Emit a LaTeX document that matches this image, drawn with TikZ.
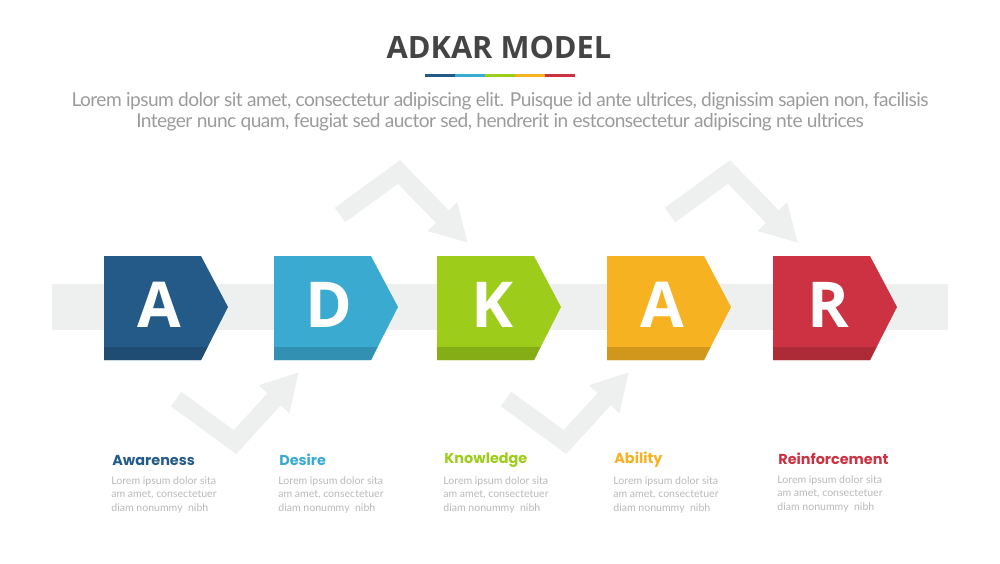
\documentclass[tikz,border=0pt]{standalone}
\usepackage{fontspec}
\setmainfont{Lato}
\newfontfamily\headfont{Open Sans}
\newfontfamily\cardfont{Poppins}
\usetikzlibrary{arrows.meta}

\definecolor{adkBlue}{RGB}{36,90,135}
\definecolor{adkSky}{RGB}{59,170,209}
\definecolor{adkGreen}{RGB}{157,205,26}
\definecolor{adkOrange}{RGB}{246,178,33}
\definecolor{adkRed}{RGB}{204,50,65}
\definecolor{adkGrey}{RGB}{238,239,239}
\definecolor{adkTitle}{RGB}{68,68,68}
\definecolor{adkText}{RGB}{155,155,155}
\definecolor{adkLight}{RGB}{185,185,185}

\begin{document}
\begin{tikzpicture}[x=0.2mm,y=-0.2mm,
		bend arrow/.style={draw=adkGrey, line width=10.2pt, line join=miter,
				-{Triangle[width=22pt,length=21pt]}},
		letter/.style={text=white, inner sep=0pt,
				font=\headfont\bfseries\fontsize{36}{36}\selectfont},
		card title/.style={anchor=west, inner sep=0pt,
				font=\cardfont\bfseries\fontsize{8.2}{9}\selectfont},
		card text/.style={anchor=north west, align=left, inner sep=0pt, text=adkLight,
				font=\fontsize{6}{7.7}\selectfont},
	]
	\useasboundingbox (0,0) rectangle (1000,563);
	%
	\node[text=adkTitle, font=\headfont\bfseries\fontsize{17.5}{20}\selectfont] (title) at (499,47) {ADKAR MODEL};
	\foreach \c [count=\i from 0] in {adkBlue,adkSky,adkGreen,adkOrange,adkRed}
		\fill[\c] (425+30*\i,73.5) rectangle ++(30,3);
	\node[text=adkText, align=center, font=\addfontfeature{LetterSpace=-3}\fontsize{10.9}{12.1}\selectfont] (intro) at (500,112)
		{Lorem ipsum dolor sit amet, consectetur adipiscing elit. Puisque id ante ultrices, dignissim sapien non, facilisis\\
		 Integer nunc quam, feugiat sed auctor sed, hendrerit in estconsectetur adipiscing nte ultrices};
	%
	\fill[adkGrey] (52,284) rectangle (948,330);
	\foreach \s in {0,330} {
		\draw[bend arrow] (340+\s,215) -- (399+\s,172) -- (468+\s,243);
		\draw[bend arrow] (176+\s,399) -- (235+\s,442) -- (299+\s,372);
	}
	%
	\foreach \x/\c/\l/\n in {104/adkBlue/A/a, 274/adkSky/D/d, 437/adkGreen/K/k, 607/adkOrange/A/b, 773/adkRed/R/r} {
		\fill[\c] (\x,256) -- ++(97,0) -- ++(27,51) -- ++(-27,53) -- ++(-97,0) -- cycle;
		\fill[\c!85!black] (\x,347) -- ++(103.6,0) -- ++(-6.6,13) -- ++(-97,0) -- cycle;
		\node[letter] (box\n) at (\x+55,305) {\l};
	}
	%
	\foreach \x/\y/\c/\t/\n in {112/460/adkBlue/Awareness/a, 279/460/adkSky/Desire/d, 444/460/adkGreen/Knowledge/k,
			614/460/adkOrange/Ability/b, 778/459/adkRed/Reinforcement/r} {
		\node[card title, text=\c] (head\n) at (\x,\y) {\t};
		\node[card text] (text\n) at (\x-1,\y+16) {Lorem ipsum dolor sita\\am amet, consectetuer\\diam nonummy\ \ nibh};
	}
\end{tikzpicture}
\end{document}
